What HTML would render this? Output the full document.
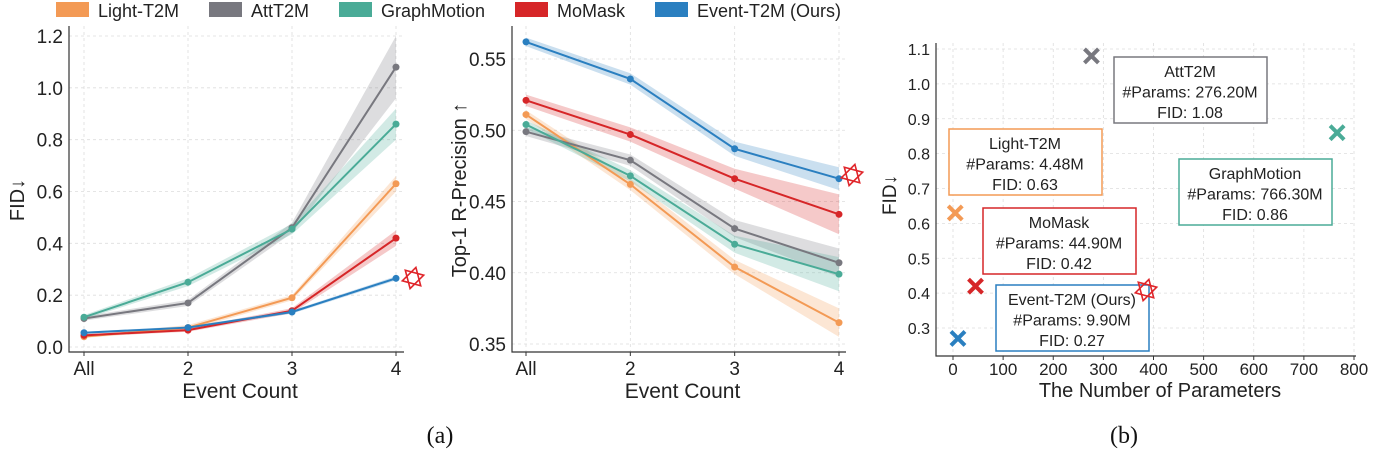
<!DOCTYPE html>
<html><head><meta charset="utf-8"><style>
body{margin:0;background:#fff;}
svg{display:block;font-family:"Liberation Sans",sans-serif;}
</style></head><body>
<svg id="s" width="1377" height="455" viewBox="0 0 1377 455"></svg>
<script>
const events=["All","2","3","4"];
const seriesNames=["Light-T2M","AttT2M","GraphMotion","MoMask","Event-T2M (Ours)"];
const colors=["#f39a55","#78787f","#4aab97","#d62628","#2a7fc0"];
const fidLight=[0.04,0.075,0.19,0.63];
const fidAtt=[0.11,0.17,0.46,1.08];
const fidGraph=[0.115,0.25,0.455,0.86];
const fidMoMask=[0.045,0.065,0.14,0.42];
const fidEvent=[0.055,0.075,0.135,0.265];
const fidBand=[[0.005,0.01,0.01,0.03],[0.008,0.012,0.02,0.12],[0.008,0.015,0.02,0.06],[0.005,0.006,0.01,0.03],[0.004,0.005,0.006,0.008]];
const rpLight=[0.511,0.462,0.404,0.365];
const rpAtt=[0.499,0.479,0.431,0.407];
const rpGraph=[0.504,0.468,0.420,0.399];
const rpMoMask=[0.521,0.497,0.466,0.441];
const rpEvent=[0.562,0.536,0.487,0.466];
const rpBand=[[0.003,0.004,0.005,0.01],[0.003,0.004,0.006,0.01],[0.003,0.004,0.006,0.012],[0.004,0.005,0.007,0.014],[0.003,0.004,0.005,0.008]];
const fidTicks=[0,0.2,0.4,0.6,0.8,1.0,1.2];
const rpTicks=[0.35,0.40,0.45,0.50,0.55];
const params=[4.48,276.2,766.3,44.9,9.9];
const paramFid=[0.63,1.08,0.86,0.42,0.27];
const pTicksX=[0,100,200,300,400,500,600,700,800];
const pTicksY=[0.3,0.4,0.5,0.6,0.7,0.8,0.9,1.0,1.1];

const S=document.getElementById('s');const NS="http://www.w3.org/2000/svg";
function el(t,a,txt){const e=document.createElementNS(NS,t);for(const k in a)e.setAttribute(k,a[k]);if(txt!=null)e.textContent=txt;S.appendChild(e);return e;}

// legend
const lx=[56,209,339,515,655];
seriesNames.forEach((n,i)=>{
 const r=el('rect',{x:lx[i],y:2,width:33,height:15,fill:colors[i]});
 
 const t=el('text',{x:lx[i]+42,y:17,'font-size':18,fill:'#222'},n);
 
});

function star(cx,cy,r){
 const pts=a=>[0,1,2].map(k=>{const t=a+k*2*Math.PI/3;return (cx+r*Math.cos(t)).toFixed(1)+','+(cy+r*Math.sin(t)).toFixed(1);}).join(' ');
 const g1=el('polygon',{points:pts(-1.3),fill:'none',stroke:'#e0262b','stroke-width':1.6});
 
 el('polygon',{points:pts(-1.3+Math.PI/3),fill:'none',stroke:'#e0262b','stroke-width':1.6});
}

function lineChart(o){
 const X=i=>o.x0+i*(o.x1-o.x0)/3;
 const Y=v=>o.yA+(v-o.vA)*(o.yB-o.yA)/(o.vB-o.vA);
 o.yt.forEach(v=>{
  el('line',{x1:o.left,x2:o.right,y1:Y(v),y2:Y(v),stroke:'#ddd','stroke-dasharray':'3,3','stroke-width':0.8});
  const t=el('text',{x:o.left-6,y:Y(v)+7,'text-anchor':'end','font-size':19,fill:'#222'},o.fmt(v));
  
 });
 events.forEach((c,i)=>{
  el('line',{x1:X(i),x2:X(i),y1:o.top,y2:o.bottom,stroke:'#ddd','stroke-dasharray':'3,3','stroke-width':0.8});
  el('line',{x1:X(i),x2:X(i),y1:o.bottom,y2:o.bottom+4,stroke:'#333'});
  const t=el('text',{x:X(i),y:o.bottom+23,'text-anchor':'middle','font-size':19,fill:'#222'},c);
  
 });
 el('path',{d:`M${o.left},${o.top} V${o.bottom} H${o.right}`,fill:'none',stroke:'#333','stroke-width':1.2});
 o.data.forEach((d,s)=>{
  const b=o.band[s];
  const up=d.map((v,i)=>X(i)+','+Y(v+b[i])),dn=d.map((v,i)=>X(i)+','+Y(v-b[i])).reverse();
  const p=el('polygon',{points:up.concat(dn).join(' '),fill:colors[s],'fill-opacity':0.25});
  
 });
 o.data.forEach((d,s)=>{
  const l=el('polyline',{points:d.map((v,i)=>X(i)+','+Y(v)).join(' '),fill:'none',stroke:colors[s],'stroke-width':2});
  
  d.forEach((v,i)=>{const c=el('circle',{cx:X(i),cy:Y(v),r:3.5,fill:colors[s]});
   });
 });
 const xl=el('text',{x:(o.x0+o.x1)/2,y:398,'text-anchor':'middle','font-size':21,fill:'#222'},'Event Count');
 
 const yl=el('text',{x:0,y:0,transform:`translate(${o.ylx},${o.yly}) rotate(-90)`,'text-anchor':'middle','font-size':20,fill:'#222'},o.ylabel);
 
 star(o.star[0],o.star[1],11);
}
lineChart({x0:84,x1:396,yA:347,vA:0,yB:36,vB:1.2,left:69,right:404,top:26,bottom:352,yt:fidTicks,fmt:v=>v.toFixed(1),
 data:[fidLight,fidAtt,fidGraph,fidMoMask,fidEvent],band:fidBand,ylabel:'FID↓',ylx:24,yly:200,star:[413,278]});
lineChart({x0:526,x1:839,yA:344,vA:0.35,yB:59,vB:0.55,left:512,right:846,top:26,bottom:352,yt:rpTicks,fmt:v=>v.toFixed(2),
 data:[rpLight,rpAtt,rpGraph,rpMoMask,rpEvent],band:rpBand,ylabel:'Top-1 R-Precision ↑',ylx:466,yly:190,star:[852,175]});

// scatter
const PX=v=>953+v*(1354-953)/800, PY=v=>328+(v-0.3)*(49-328)/0.8;
pTicksY.forEach(v=>{
 el('line',{x1:936,x2:1356,y1:PY(v),y2:PY(v),stroke:'#ddd','stroke-dasharray':'3,3','stroke-width':0.8});
 const t=el('text',{x:930,y:PY(v)+6,'text-anchor':'end','font-size':16,fill:'#222'},v.toFixed(1));
 
});
pTicksX.forEach(v=>{
 el('line',{x1:PX(v),x2:PX(v),y1:43,y2:356,stroke:'#ddd','stroke-dasharray':'3,3','stroke-width':0.8});
 el('line',{x1:PX(v),x2:PX(v),y1:356,y2:360,stroke:'#333'});
 const t=el('text',{x:PX(v),y:375,'text-anchor':'middle','font-size':17,fill:'#222'},v);
 
});
el('path',{d:'M936,43 V356 H1356',fill:'none',stroke:'#333','stroke-width':1.2});
const boxes=[[949,129],[1114,57],[1179,159],[983,208],[996,285]];
const bx=["Light-T2M","AttT2M","GraphMotion","MoMask","Event-T2M (Ours)"];
params.forEach((p,i)=>{
 const x=PX(p),y=PY(paramFid[i]);
 const m=el('path',{d:`M${x-7},${y-7}L${x+7},${y+7}M${x-7},${y+7}L${x+7},${y-7}`,stroke:colors[i],'stroke-width':4});
 
 const [X0,Y0]=boxes[i];
 const r=el('rect',{x:X0,y:Y0,width:153,height:66,fill:'#fff',stroke:colors[i],'stroke-width':1.5});
 
 [bx[i],'#Params: '+p.toFixed(2)+'M','FID: '+paramFid[i].toFixed(2)].forEach((s,k)=>{
  el('text',{x:X0+76,y:Y0+20+k*20.5,'text-anchor':'middle','font-size':16,fill:'#222'},s);
 });
});
star(1146,290,11);
const xt=el('text',{x:1160,y:397,'text-anchor':'middle','font-size':20,fill:'#222'},'The Number of Parameters');

const yt=el('text',{x:0,y:0,transform:'translate(896,195) rotate(-90)','text-anchor':'middle','font-size':19,fill:'#222'},'FID↓');

const ca=el('text',{x:440,y:443,'text-anchor':'middle','font-size':24,'font-family':'Liberation Serif,serif',fill:'#111'},'(a)');

const cb=el('text',{x:1124,y:443,'text-anchor':'middle','font-size':24,'font-family':'Liberation Serif,serif',fill:'#111'},'(b)');

</script>
</body></html>
